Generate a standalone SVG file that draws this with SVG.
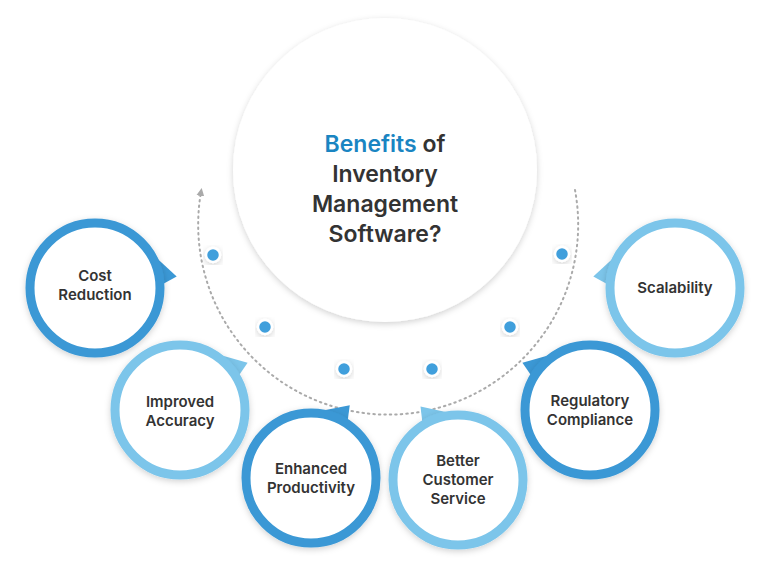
<svg xmlns="http://www.w3.org/2000/svg" width="768" height="587" viewBox="0 0 768 587">
<defs>
<filter id="sh" x="-20%" y="-20%" width="140%" height="140%"><feDropShadow dx="0" dy="2" stdDeviation="3" flood-color="#000" flood-opacity="0.18"/></filter>
<marker id="ar" viewBox="0 0 10 10" refX="5" refY="5" markerWidth="4" markerHeight="4" orient="auto"><path d="M0,0 L10,5 L0,10 z" fill="#aaa"/></marker>
</defs>
<style>
.lbl{font-family:"Inter","Liberation Sans",sans-serif;font-weight:600;font-size:15px;fill:#333;text-anchor:middle}
.dk{stroke:#3b98d5;fill:#fff;stroke-width:9}
.lt{stroke:#7cc5ea;fill:#fff;stroke-width:9}
.tdk{fill:#3b98d5}.tlt{fill:#7cc5ea}
.dot{fill:#3f9fdc;stroke:#fff;stroke-width:2.5;filter:url(#sh)}
.ttl{font-family:"Inter","Liberation Sans",sans-serif;font-weight:600;font-size:23px;fill:#333;text-anchor:middle}
</style>
<rect width="768" height="587" fill="#fff"/>
<g id="center"><circle cx="385" cy="170" r="152" fill="#fff" filter="url(#sh)"/>
<text class="ttl" x="385" y="152"><tspan fill="#1a85c2">Benefits</tspan> of</text>
<text class="ttl" x="385" y="182">Inventory</text>
<text class="ttl" x="385" y="212">Management</text>
<text class="ttl" x="385" y="242" fill="#1a85c2">Software?</text></g>
<g id="connectors">
<path d="M575,190 A190,190 0 1 1 201,192" fill="none" stroke="#aaa" stroke-width="2" stroke-dasharray="1.5 4" stroke-linecap="round" marker-end="url(#ar)"/>
<circle class="dot" cx="213" cy="255" r="7"/><circle class="dot" cx="265" cy="327" r="7"/><circle class="dot" cx="344" cy="369" r="7"/>
<circle class="dot" cx="432" cy="369" r="7"/><circle class="dot" cx="510" cy="327" r="7"/><circle class="dot" cx="562" cy="254" r="7"/>
</g>
<g id="n1" transform="translate(95,288)"><path class="tdk" transform="rotate(68)" d="M-14,-64 L20,-80 L22,-62 Z"/><circle class="dk" r="65" filter="url(#sh)"/><text class="lbl" y="-7">Cost</text><text class="lbl" y="12">Reduction</text></g>
<g id="n2" transform="translate(180,410)"><path class="tlt" transform="rotate(41)" d="M-14,-64 L20,-80 L22,-62 Z"/><circle class="lt" r="65" filter="url(#sh)"/><text class="lbl" y="-3">Improved</text><text class="lbl" y="16">Accuracy</text></g>
<g id="n3" transform="translate(311,478)"><path class="tdk" transform="rotate(14)" d="M-14,-64 L20,-80 L22,-62 Z"/><circle class="dk" r="65" filter="url(#sh)"/><text class="lbl" y="-4">Enhanced</text><text class="lbl" y="15">Productivity</text></g>
<g id="n4" transform="translate(458,480)"><path class="tlt" transform="rotate(-13)" d="M14,-64 L-20,-80 L-22,-62 Z"/><circle class="lt" r="65" filter="url(#sh)"/><text class="lbl" y="-14">Better</text><text class="lbl" y="5">Customer</text><text class="lbl" y="24">Service</text></g>
<g id="n5" transform="translate(590,410)"><path class="tdk" transform="rotate(-41)" d="M14,-64 L-20,-80 L-22,-62 Z"/><circle class="dk" r="65" filter="url(#sh)"/><text class="lbl" y="-4">Regulatory</text><text class="lbl" y="15">Compliance</text></g>
<g id="n6" transform="translate(675,288)"><path class="tlt" transform="rotate(-68)" d="M14,-64 L-20,-80 L-22,-62 Z"/><circle class="lt" r="65" filter="url(#sh)"/><text class="lbl" y="5">Scalability</text></g>
</svg>
